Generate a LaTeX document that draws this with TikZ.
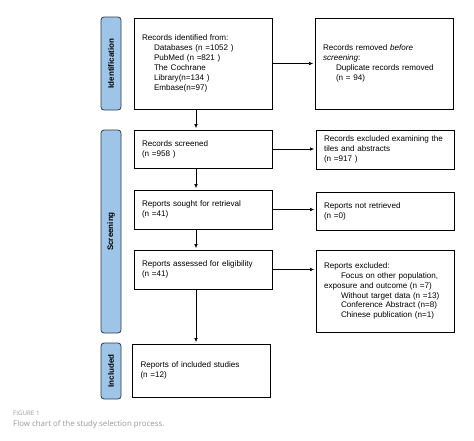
\documentclass[tikz,border=0pt]{standalone}
\usepackage{fontspec}
\setmainfont{Liberation Sans}
\newfontfamily\capfont{Open Sans}
\usetikzlibrary{arrows.meta}
\definecolor{tabblue}{HTML}{9EC5E8}
\definecolor{tabline}{HTML}{2F3B4A}
\definecolor{capgray}{HTML}{999999}

\begin{document}
\begin{tikzpicture}[
  x=1pt, y=-1pt,
  every node/.style={font=\fontsize{8.1}{9.9}\selectfont},
  box/.style={draw, line width=0.8pt, inner xsep=8pt, inner ysep=2pt, text width=122pt, align=left, minimum width=138pt},
  tab/.style={draw=tabline, fill=tabblue, line width=0.8pt, rounded corners=3pt, rotate=90, minimum height=20pt, inner sep=0pt, font=\fontsize{8}{9.6}\selectfont\bfseries},
  arr/.style={draw, line width=0.6pt, shorten >=1.5pt, -{Latex[length=4pt,width=3.6pt]}}
  ]
\useasboundingbox (0,0) rectangle (474,440);

% phase tabs
\node[tab, minimum width=93pt] (idtab) at (111,63.5) {Identification};
\node[tab, minimum width=203pt] (scrtab) at (111,231.5) {Screening};
\node[tab, minimum width=56pt] (inctab) at (111,371) {Included};

% main column
\node[box, minimum height=91pt] (ident) at (203,63.5) {Records identified from:\\
  \hspace*{12pt}Databases (n =1052 )\\
  \hspace*{12pt}PubMed (n =821 )\\
  \hspace*{12pt}The Cochrane\\
  \hspace*{12pt}Library(n=134 )\\
  \hspace*{12pt}Embase(n=97)};
\node[box, minimum height=38pt] (screened) at (203,149) {Records screened\\(n =958 )};
\node[box, minimum height=39pt] (sought) at (203,209.5) {Reports sought for retrieval\\(n =41)};
\node[box, minimum height=39pt] (assessed) at (203,269.5) {Reports assessed for eligibility\\(n =41)};
\node[box, minimum height=53pt] (included) at (201.5,370.5) {Reports of included studies\\(n =12)};

% side column
\node[box, minimum height=91pt] (removed) at (384,63.5) {Records removed \textit{before}\\
  \textit{screening}:\\
  \hspace*{13pt}Duplicate records removed\\
  \hspace*{13pt}(n = 94)};
\node[box, minimum height=39pt] (excl) at (385,149.5) {Records excluded examining the\\tiles and abstracts\\(n =917 )};
\node[box, minimum height=38pt] (notret) at (385,211) {Reports not retrieved\\(n =0)};
\node[box, minimum height=82pt] (excluded) at (385,291) {Reports excluded:\\
  \hspace*{17pt}Focus on other population,\\
  exposure and outcome (n =7)\\
  \hspace*{17pt}Without target data (n =13)\\
  \hspace*{17pt}Conference Abstract (n=8)\\
  \hspace*{17pt}Chinese publication (n=1)};

\coordinate (spine) at (196,0);
\draw[arr] (ident.south -| spine) -- (screened.north -| spine);
\draw[arr] (screened.south -| spine) -- (sought.north -| spine);
\draw[arr] (sought.south -| spine) -- (assessed.north -| spine);
\draw[arr] (assessed.south -| spine) -- (included.north -| spine);

\draw[arr] (ident.east) -- (ident.east -| removed.west);
\draw[arr] (screened.east) -- (screened.east -| excl.west);
\draw[arr] (sought.east) -- (sought.east -| notret.west);
\draw[arr] (assessed.east) -- (assessed.east -| excluded.west);

\node[anchor=base west, inner sep=0pt, text=capgray, font=\capfont\fontsize{6.2}{7}\selectfont] (fignum) at (13,415.5) {FIGURE 1};
\node[anchor=base west, inner sep=0pt, text=capgray, font=\capfont\fontsize{7.9}{9}\selectfont] (caption) at (13,426) {Flow chart of the study selection process.};
\end{tikzpicture}
\end{document}
